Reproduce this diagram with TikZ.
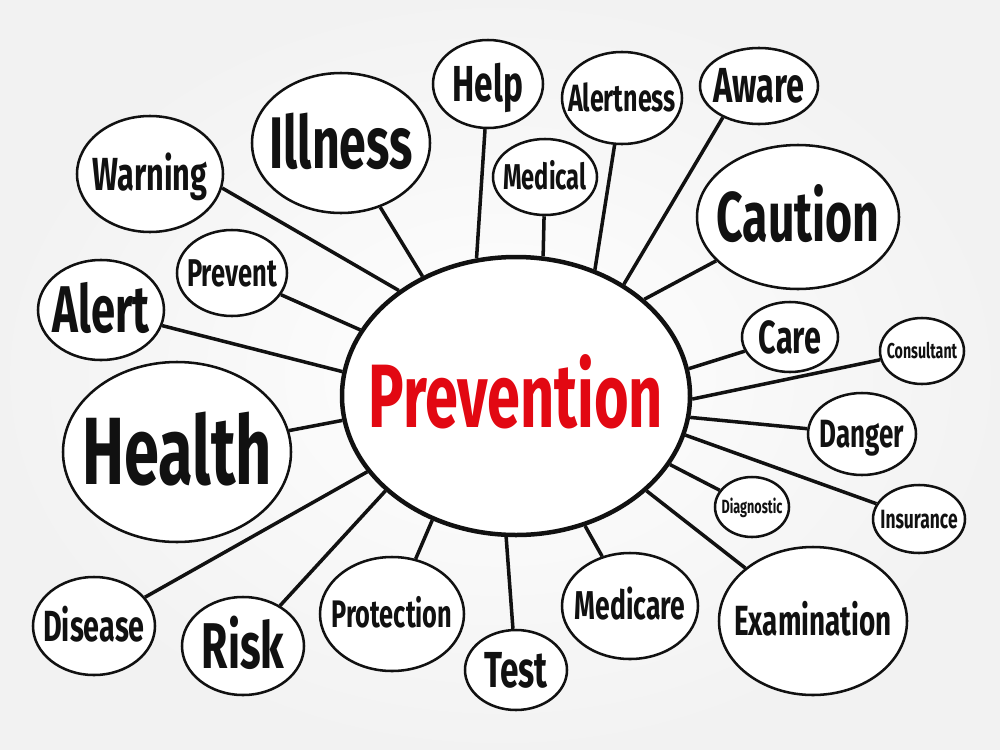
\documentclass[tikz,border=0pt]{standalone}
\usepackage{fontspec}
\newfontfamily\marker{Fira Sans}[FakeStretch=0.66]
\usetikzlibrary{shapes.geometric}
\newcommand\pxu{0.025cm}
\definecolor{penred}{RGB}{226,8,18}
\definecolor{ink}{RGB}{17,17,17}
\tikzset{
  bub/.style 2 args={ellipse, draw=ink, fill=white, line width=1.8pt, inner sep=0pt,
    minimum width=2*#1*\pxu, minimum height=2*#2*\pxu},
  word/.style={font=\marker\bfseries\fontsize{#1}{#1}\selectfont, text=ink,
    inner sep=0pt, text height=0.69*#1pt, text depth=0pt},
  spoke/.style={draw=ink, line width=2.5pt}
}
\begin{document}
\begin{tikzpicture}[x=0.025cm, y=-0.025cm]
		\shade[inner color=white, outer color=black!5] (0,0) rectangle (1000,750);
		\useasboundingbox (0,0) rectangle (1000,750);
		
		\node[bub={174}{139}, line width=3.2pt, label={[word=64, text=penred]center:Prevention}] (prev) at (516,396) {};
		
		\node[bub={55}{44}, label={[word=36]center:Help}] (help) at (488,84) {};
		\node[bub={60}{46}, label={[word=27]center:Alertness}] (alertness) at (622,98) {};
		\node[bub={59}{38}, label={[word=35]center:Aware}] (aware) at (759,86) {};
		\node[bub={52}{38}, label={[word=25.5]center:Medical}] (medical) at (545,177) {};
		\node[bub={89}{70}, label={[word=52]center:Illness}] (illness) at (341,143) {};
		\node[bub={73}{58}, label={[word=33]center:Warning}] (warning) at (150,174) {};
		\node[bub={101}{72}, label={[word=50]center:Caution}] (caution) at (798,217) {};
		\node[bub={55}{43}, label={[word=27.5]center:Prevent}] (prevent) at (232,273) {};
		\node[bub={63}{50}, label={[word=47]center:Alert}] (alert) at (101,310) {};
		\node[bub={48}{35}, label={[word=33]center:Care}] (care) at (790,337) {};
		\node[bub={42}{33}, label={[word=15.3]center:Consultant}] (consultant) at (922,351) {};
		\node[bub={114}{90}, label={[word=68]center:Health}] (health) at (177,452) {};
		\node[bub={54}{41}, label={[word=28]center:Danger}] (danger) at (862,434) {};
		\node[bub={37}{30}, label={[word=13.6]center:Diagnostic}] (diagnostic) at (752,507) {};
		\node[bub={46}{34}, label={[word=18.8]center:Insurance}] (insurance) at (919,519) {};
		\node[bub={61}{49}, label={[word=31]center:Disease}] (disease) at (94,626) {};
		\node[bub={61}{49}, label={[word=46]center:Risk}] (risk) at (243,646) {};
		\node[bub={72}{57}, label={[word=27.3]center:Protection}] (protection) at (392,614) {};
		\node[bub={51}{40}, label={[word=36]center:Test}] (test) at (516,670) {};
		\node[bub={68}{53}, label={[word=28.6]center:Medicare}] (medicare) at (630,606) {};
		\node[bub={94}{74}, label={[word=30]center:Examination}] (exam) at (813,621) {};
		
		\draw[spoke] (help) -- (prev.106);
		\draw[spoke] (medical) -- (prev.79);
		\draw[spoke] (alertness) -- (prev.58);
		\draw[spoke] (aware.221) -- (prev.46);
		\draw[spoke] (caution) -- (prev.37);
		\draw[spoke] (care) -- (prev.9);
		\draw[spoke] (consultant) -- (prev.359);
		\draw[spoke] (danger) -- (prev.353);
		\draw[spoke] (insurance) -- (prev.347);
		\draw[spoke] (diagnostic) -- (prev.336);
		\draw[spoke] (exam) -- (prev.324);
		\draw[spoke] (medicare) -- (prev.298);
		\draw[spoke] (test) -- (prev.266);
		\draw[spoke] (protection) -- (prev.236);
		\draw[spoke] (risk) -- (prev.216);
		\draw[spoke] (disease) -- (prev.207);
		\draw[spoke] (health) -- (prev.188);
		\draw[spoke] (alert) -- (prev.172);
		\draw[spoke] (prevent) -- (prev.157);
		\draw[spoke] (warning.349) -- (prev.138);
		\draw[spoke] (illness) -- (prev.128);
\end{tikzpicture}
\end{document}
